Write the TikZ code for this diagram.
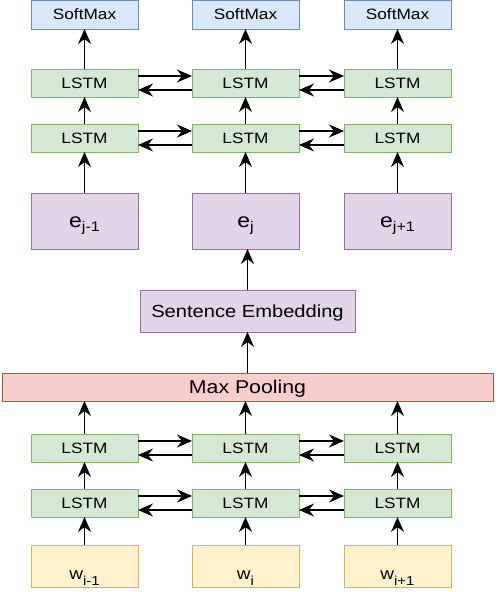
\documentclass[tikz,border=0pt]{standalone}
\usepackage{fontspec}
\newfontfamily\hv[FakeStretch=1.15]{Liberation Sans}
\usepackage{tikz}
\usetikzlibrary{positioning}
\usetikzlibrary{arrows.meta}

\definecolor{smfill}{HTML}{DAE8FC}
\definecolor{smline}{HTML}{6C8EBF}
\definecolor{lstmfill}{HTML}{D5E8D4}
\definecolor{lstmline}{HTML}{82B366}
\definecolor{efill}{HTML}{E1D5E7}
\definecolor{eline}{HTML}{9673A6}
\definecolor{mpfill}{HTML}{F8CECC}
\definecolor{mpline}{HTML}{B85450}
\definecolor{wfill}{HTML}{FFF2CC}
\definecolor{wline}{HTML}{D6B656}

\newcommand{\esub}[1]{\raisebox{-4pt}{\fontsize{14}{14}\selectfont #1}}
\newcommand{\wsub}[1]{\raisebox{-6pt}{\fontsize{13}{13}\selectfont #1}}

\begin{document}
\begin{tikzpicture}[x=1pt,y=-1pt,
		box/.style = {draw,line width=1pt,inner sep=0pt,outer sep=0pt,minimum width=107pt},
		smbox/.style = {box,draw=smline,fill=smfill,minimum height=29pt,font=\hv\fontsize{15}{18}\selectfont},
		lstm/.style = {box,draw=lstmline,fill=lstmfill,minimum height=28pt,font=\hv\fontsize{15}{18}\selectfont},
		ebox/.style = {box,draw=eline,fill=efill,minimum height=56pt,text height=12pt,text depth=0pt,font=\hv\fontsize{20}{23}\selectfont},
		wbox/.style = {box,draw=wline,fill=wfill,minimum height=42pt,text height=26pt,text depth=0pt,font=\hv\fontsize{16.5}{19}\selectfont},
		arr/.style = {black,line width=1.4pt,-{Stealth[length=15pt,width=13pt,inset=5pt]}}
	]
		\useasboundingbox (0,0) rectangle (499,592);
		% upper half
		\node[smbox] at (84.5,14.5) (sma) {SoftMax};
		\node[smbox,right = 54pt of sma] (smb) {SoftMax};
		\node[smbox,right = 45pt of smb] (smc) {SoftMax};
		\node[lstm,below = 40pt of sma] (u1a) {LSTM};
		\node[lstm,below = 40pt of smb] (u1b) {LSTM};
		\node[lstm,below = 40pt of smc] (u1c) {LSTM};
		\node[lstm,below = 27pt of u1a] (u2a) {LSTM};
		\node[lstm,below = 27pt of u1b] (u2b) {LSTM};
		\node[lstm,below = 27pt of u1c] (u2c) {LSTM};
		\node[ebox,below = 41pt of u2a] (ea) {e\esub{j-1}};
		\node[ebox,below = 41pt of u2b] (eb) {e\esub{j}};
		\node[ebox,below = 41pt of u2c] (ec) {e\esub{j+1}};
		% middle
		\node[box,draw=eline,fill=efill,minimum width=215pt,minimum height=42pt,text depth=0pt,
			font=\hv\fontsize{17.5}{20}\selectfont] at (247.5,311) (se) {Sentence Embedding};
		\node[box,draw=mpline,fill=mpfill,minimum width=491pt,minimum height=28pt,text depth=0pt,
			font=\hv\fontsize{18.5}{21}\selectfont] at (247.5,387) (mp) {Max Pooling};
		% lower half
		\node[wbox] at (84.5,566) (wa) {w\wsub{i-1}};
		\node[wbox,right = 54pt of wa] (wb) {w\wsub{i}};
		\node[wbox,right = 45pt of wb] (wc) {w\wsub{i+1}};
		\node[lstm,above = 28pt of wa] (l4a) {LSTM};
		\node[lstm,above = 28pt of wb] (l4b) {LSTM};
		\node[lstm,above = 28pt of wc] (l4c) {LSTM};
		\node[lstm,above = 27pt of l4a] (l3a) {LSTM};
		\node[lstm,above = 27pt of l4b] (l3b) {LSTM};
		\node[lstm,above = 27pt of l4c] (l3c) {LSTM};

		\foreach \a/\b in {u1a/u1b,u1b/u1c,u2a/u2b,u2b/u2c,l3a/l3b,l3b/l3c,l4a/l4b,l4b/l4c}{
			\draw[arr] ([yshift=7pt]\a.east) to ([yshift=7pt]\b.west);
			\draw[arr] ([yshift=-7pt]\b.west) to ([yshift=-7pt]\a.east);
		}
		\foreach \c in {a,b,c}{
			\draw[arr] (u1\c) to (sm\c);
			\draw[arr] (u2\c) to (u1\c);
			\draw[arr] (e\c) to (u2\c);
			\draw[arr] (w\c) to (l4\c);
			\draw[arr] (l4\c) to (l3\c);
			\draw[arr] (l3\c.north) to (l3\c.north |- mp.south);
		}
		\draw[arr] (mp.north -| se.south) to (se.south);
		\draw[arr] (se.north) to (se.north |- eb.south);
	\end{tikzpicture}
\end{document}
